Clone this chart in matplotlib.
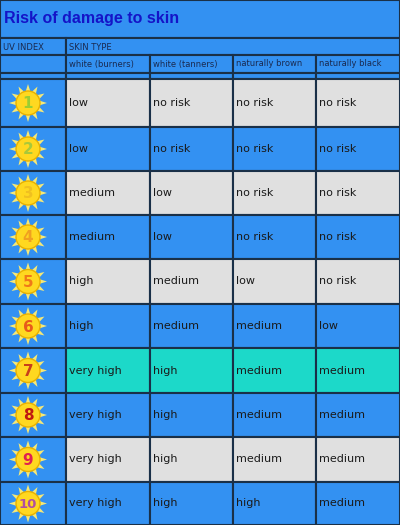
import matplotlib.pyplot as plt
from matplotlib.patches import Rectangle, Circle, Polygon
import numpy as np

skin_types = ["white (burners)", "white (tanners)", "naturally brown", "naturally black"]
uv_index = [1, 2, 3, 4, 5, 6, 7, 8, 9, 10]
risk = [
    ["low", "no risk", "no risk", "no risk"],
    ["low", "no risk", "no risk", "no risk"],
    ["medium", "low", "no risk", "no risk"],
    ["medium", "low", "no risk", "no risk"],
    ["high", "medium", "low", "no risk"],
    ["high", "medium", "medium", "low"],
    ["very high", "high", "medium", "medium"],
    ["very high", "high", "medium", "medium"],
    ["very high", "high", "medium", "medium"],
    ["very high", "high", "high", "medium"],
]
row_colors = ["#e0e0e0", "#3391f2", "#e0e0e0", "#3391f2", "#e0e0e0",
              "#3391f2", "#1cd9c9", "#3391f2", "#e0e0e0", "#3391f2"]
num_colors = ["#9acd32", "#a8c83a", "#f0c020", "#f0a020", "#f07818",
              "#e85a1a", "#c8401a", "#c01a10", "#e02050", "#b050a0"]

BLUE = "#3391f2"
EDGE = "#1a3048"

fig = plt.figure(figsize=(4, 5.25), dpi=100)
ax = fig.add_axes([0, 0, 1, 1])
ax.set_xlim(0, 400)
ax.set_ylim(525, 0)
ax.axis("off")

def cell(x0, y0, x1, y1, color):
    ax.add_patch(Rectangle((x0, y0), x1 - x0, y1 - y0, facecolor=color,
                           edgecolor=EDGE, linewidth=1.5))

cols = [0, 66, 150, 233, 316, 400]
cell(0, 0, 400, 38, BLUE)
ax.text(4, 19, "Risk of damage to skin", color="#1414c8", fontsize=11.5,
        fontweight="bold", va="center", family="Liberation Sans")
cell(0, 38, 66, 55, BLUE)
cell(66, 38, 400, 55, BLUE)
ax.text(3, 47, "UV INDEX", fontsize=6, va="center", color="#1a2a50")
ax.text(69, 47, "SKIN TYPE", fontsize=6, va="center", color="#1a2a50")
for i in range(5):
    cell(cols[i], 55, cols[i + 1], 73, BLUE)
    cell(cols[i], 73, cols[i + 1], 79, BLUE)
    if i > 0:
        ax.text(cols[i] + 3, 64, skin_types[i - 1], fontsize=6, va="center",
                color="#1a2a50")

rows = [79, 127, 171, 215, 259, 304, 348, 393, 437, 482, 525]
for r in range(10):
    y0, y1 = rows[r], rows[r + 1]
    yc = (y0 + y1) / 2
    cell(0, y0, 66, y1, BLUE)
    # sun
    cx = 28
    for k in range(12):
        a = k * np.pi / 6
        d = np.array([np.cos(a), np.sin(a)])
        p = np.array([-d[1], d[0]])
        tip = np.array([cx, yc]) + d * 19
        b1 = np.array([cx, yc]) + d * 11 + p * 2.5
        b2 = np.array([cx, yc]) + d * 11 - p * 2.5
        ax.add_patch(Polygon([tip, b1, b2], facecolor="#f5e878", edgecolor="none"))
    ax.add_patch(Circle((cx, yc), 12, facecolor="#ffd820", edgecolor="#e8b000", lw=1))
    ax.text(cx, yc + 1, str(uv_index[r]), fontsize=11 if uv_index[r] < 10 else 9.5,
            fontweight="bold", color=num_colors[r], ha="center", va="center")
    for c in range(4):
        cell(cols[c + 1], y0, cols[c + 2], y1, row_colors[r])
        ax.text(cols[c + 1] + 3, yc, risk[r][c], fontsize=8, va="center",
                color="#1a1a1a")

fig.savefig("out.png", dpi=100)
